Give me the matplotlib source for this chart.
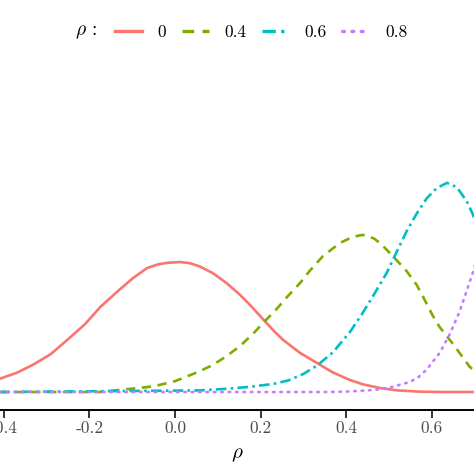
import matplotlib.pyplot as plt
import numpy as np

plt.rcParams['font.family'] = 'serif'
plt.rcParams['font.serif'] = ['cmr10', 'DejaVu Serif']
plt.rcParams['mathtext.fontset'] = 'cm'

# densities, one curve per true rho
x_r0 = [-0.41, -0.37, -0.332, -0.29, -0.252, -0.21, -0.175, -0.136, -0.098,
        -0.065, -0.04, -0.019, 0.012, 0.035, 0.058, 0.089, 0.121, 0.152,
        0.175, 0.206, 0.23, 0.252, 0.292, 0.339, 0.369, 0.409, 0.44, 0.479,
        0.52, 0.57, 0.62, 0.75]
d_r0 = [0.33, 0.48, 0.68, 0.95, 1.30, 1.70, 2.12, 2.50, 2.85,
        3.10, 3.19, 3.23, 3.25, 3.22, 3.14, 2.97, 2.72, 2.43,
        2.18, 1.82, 1.54, 1.31, 0.98, 0.68, 0.49, 0.30, 0.19, 0.10,
        0.04, 0.01, 0.0, 0.0]

x_r4 = [-0.41, -0.175, -0.13, -0.06, -0.035, 0.0, 0.028, 0.058, 0.089,
        0.121, 0.152, 0.182, 0.21, 0.238, 0.264, 0.292, 0.315, 0.346, 0.386,
        0.416, 0.439, 0.465, 0.48, 0.509, 0.541, 0.565, 0.579, 0.603, 0.619,
        0.65, 0.689, 0.72, 0.78]
d_r4 = [0.0, 0.0, 0.05, 0.13, 0.18, 0.27, 0.39, 0.52, 0.68,
        0.90, 1.15, 1.45, 1.77, 2.08, 2.40, 2.72, 3.03, 3.40, 3.73,
        3.88, 3.93, 3.84, 3.72, 3.40, 3.03, 2.68, 2.40, 1.90, 1.62,
        1.20, 0.63, 0.35, 0.05]

x_r6 = [-0.41, 0.058, 0.12, 0.175, 0.229, 0.265, 0.30, 0.332, 0.369, 0.409,
        0.436, 0.463, 0.495, 0.519, 0.542, 0.565, 0.589, 0.612, 0.636,
        0.659, 0.682, 0.696, 0.72, 0.75]
d_r6 = [0.0, 0.04, 0.08, 0.13, 0.20, 0.29, 0.45, 0.66, 0.99, 1.50,
        1.93, 2.40, 2.98, 3.52, 4.03, 4.46, 4.85, 5.10, 5.23,
        5.12, 4.77, 4.45, 3.70, 2.90]

x_r8 = [-0.41, 0.35, 0.40, 0.45, 0.48, 0.509, 0.549, 0.57, 0.589, 0.619,
        0.643, 0.666, 0.682, 0.696, 0.72]
d_r8 = [0.0, 0.0, 0.01, 0.04, 0.07, 0.13, 0.25, 0.38, 0.57, 0.98,
        1.46, 2.03, 2.53, 2.98, 3.80]

labels = ['0', '0.4', '0.6', '0.8']
colors = ['#F8766D', '#7CAE00', '#00BFC4', '#C77CFF']
ticks = [-0.4, -0.2, 0.0, 0.2, 0.4, 0.6]
tick_labels = ['-0.4', '-0.2', '0.0', '0.2', '0.4', '0.6']

fig = plt.figure(figsize=(4.74, 4.74), dpi=100)
ax = fig.add_axes([0.0, 0.135, 1.0, 0.675])

ax.plot(x_r0, d_r0, color=colors[0], lw=1.9, ls='-', label=labels[0])
ax.plot(x_r4, d_r4, color=colors[1], lw=1.9, ls=(0, (3.5, 2.5)),
        label=labels[1])
ax.plot(x_r6, d_r6, color=colors[2], lw=1.9, ls=(0, (4, 1.6, 1, 1.6)),
        label=labels[2])
ax.plot(x_r8, d_r8, color=colors[3], lw=1.9, ls=(0, (0.6, 2.2)),
        dash_capstyle='round', label=labels[3])

ax.set_xlim(-0.409, 0.699)
ax.set_ylim(-0.45, 7.55)
ax.set_xticks(ticks)
ax.set_xticklabels(tick_labels, fontsize=12.5, color='#4D4D4D')
ax.tick_params(axis='x', length=6, width=1.1, color='black', pad=2)
ax.set_yticks([])
for s in ['left', 'right', 'top']:
    ax.spines[s].set_visible(False)
ax.spines['bottom'].set_linewidth(1.4)
ax.set_xlabel(r'$\rho$', fontsize=15, labelpad=7)

fig.text(0.158, 0.9325, r'$\rho$ :', fontsize=14, va='center')
leg = fig.legend(loc='center left', bbox_to_anchor=(0.2426, 0.9325), ncol=4,
                 frameon=False, fontsize=12.5, handlelength=1.55,
                 handletextpad=0.9, columnspacing=0.9, borderpad=0,
                 borderaxespad=0)
for line in leg.get_lines():
    line.set_linewidth(2.4)

fig.savefig('out.png', dpi=100)
